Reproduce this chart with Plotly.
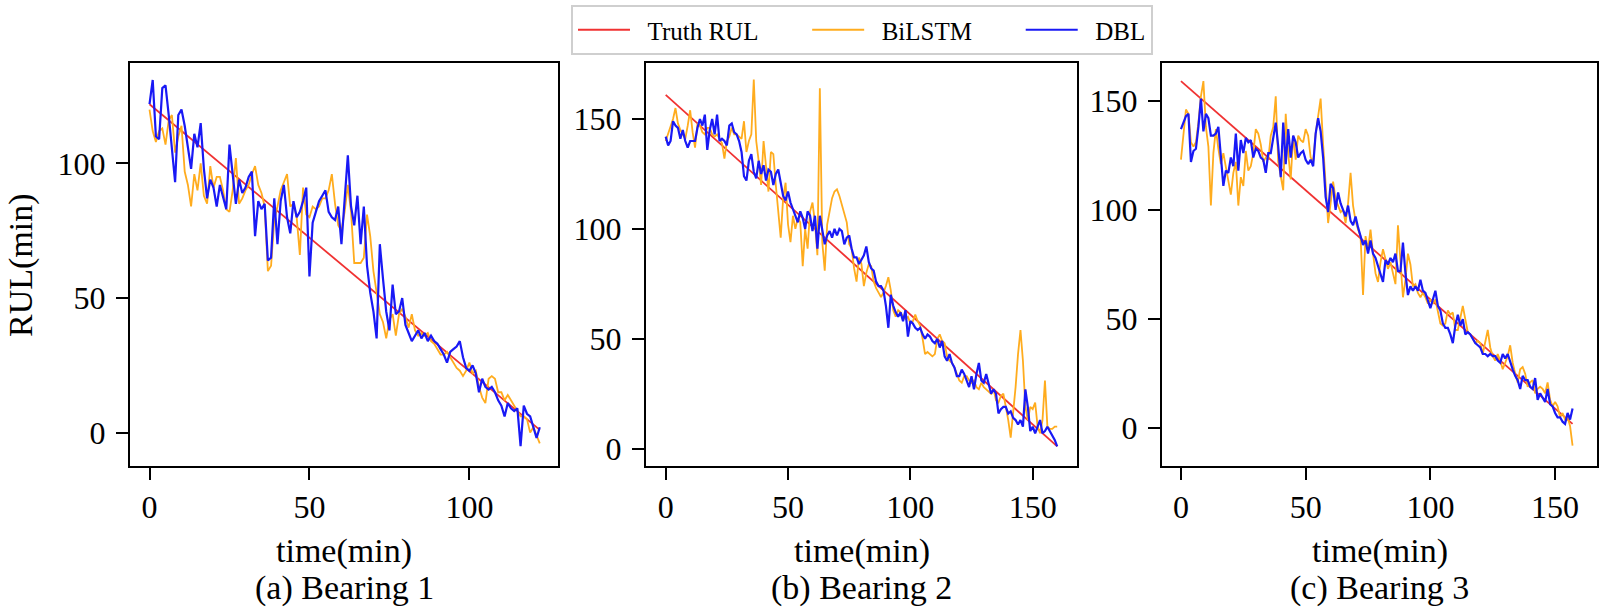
import plotly.graph_objects as go

# ---------------- data ----------------
# Bearing 1
b1_time = list(range(123))
b1_truth_time = [0, 122]
b1_truth = [122, 1]
b1_bilstm = [
    120, 112, 108, 112, 113, 107, 116, 118, 104, 110,
    114, 97, 92, 84, 96, 90, 100, 88, 85, 99,
    91, 95, 95, 90, 83, 82, 90, 102, 85, 87,
    90, 92, 96, 99, 92, 89, 84, 60, 62, 79,
    84, 90, 93, 96, 84, 85, 80, 66, 91, 81,
    80, 84, 83, 84, 87, 87, 90, 96, 85, 77,
    75, 82, 92, 82, 63, 63, 63, 65, 81, 73,
    60, 52, 44, 41, 35, 42, 44, 36, 44, 46,
    43, 39, 44, 38, 36, 37, 36, 37, 34, 33,
    31, 29, 29, 30, 28, 26, 24, 23, 21, 23,
    26, 22, 23, 17, 13, 11, 20, 21, 20, 15,
    15, 12, 14, 12, 10, 8, 6, 6, 5, 0,
    2, -1, -4]
b1_dbl = [
    122, 131, 110, 109, 128, 129, 118, 106, 93, 118,
    120, 114, 106, 98, 111, 106, 115, 98, 87, 94,
    91, 84, 92, 87, 83, 107, 97, 85, 94, 89,
    91, 95, 97, 73, 86, 83, 85, 64, 65, 87,
    70, 86, 92, 80, 74, 86, 80, 82, 86, 91,
    58, 78, 82, 86, 88, 90, 82, 80, 79, 84,
    70, 86, 103, 84, 77, 88, 70, 84, 62, 52,
    45, 35, 70, 57, 45, 38, 55, 44, 45, 50,
    40, 37, 34, 36, 38, 35, 37, 34, 36, 34,
    33, 31, 29, 26, 30, 31, 32, 34, 28, 24,
    23, 25, 22, 15, 20, 17, 16, 17, 15, 12,
    10, 6, 11, 9, 8, 9, -5, 10, 7, 6,
    2, -2, 2]

# Bearing 2
b2_time = list(range(161))
b2_truth_time = [0, 160]
b2_truth = [161, 1]
b2_bilstm = [
    140, 143, 147, 150, 155, 148, 145, 143, 141, 147,
    154, 144, 137, 148, 147, 144, 143, 146, 146, 143,
    142, 143, 141, 139, 132, 140, 142, 146, 143, 143,
    142, 141, 149, 135, 140, 143, 168, 140, 131, 120,
    140, 128, 117, 135, 134, 120, 109, 96, 114, 121,
    102, 94, 106, 100, 105, 103, 83, 100, 91, 108,
    112, 103, 88, 164, 94, 81, 102, 109, 114, 117,
    118, 115, 111, 108, 103, 93, 91, 82, 76, 87,
    84, 74, 80, 84, 83, 76, 73, 71, 69, 71,
    74, 78, 72, 63, 60, 63, 62, 60, 59, 60,
    57, 58, 61, 58, 56, 50, 43, 44, 43, 42,
    43, 50, 52, 49, 48, 42, 40, 39, 37, 34,
    31, 30, 33, 33, 31, 30, 31, 28, 27, 30,
    28, 27, 26, 25, 27, 22, 21, 24, 25, 19,
    13, 5, 16, 28, 43, 54, 40, 19, 13, 19,
    18, 21, 10, 7, 13, 31, 10, 9, 9, 10,
    10]
b2_dbl = [
    142, 138, 140, 149, 147, 146, 141, 145, 140, 137,
    140, 140, 140, 146, 150, 147, 152, 136, 145, 150,
    143, 152, 140, 141, 140, 138, 147, 148, 144, 143,
    140, 135, 124, 122, 131, 134, 126, 123, 131, 125,
    129, 122, 127, 126, 120, 125, 127, 121, 115, 113,
    117, 112, 109, 106, 103, 108, 105, 100, 108, 106,
    99, 106, 91, 106, 99, 93, 97, 99, 96, 100,
    97, 100, 99, 93, 96, 97, 91, 87, 87, 84,
    86, 88, 92, 85, 82, 81, 76, 74, 74, 72,
    65, 55, 70, 65, 62, 60, 62, 58, 63, 51,
    58, 57, 55, 54, 55, 52, 50, 52, 51, 49,
    48, 50, 46, 49, 42, 40, 43, 39, 37, 33,
    33, 36, 34, 31, 28, 33, 27, 34, 39, 31,
    30, 34, 30, 25, 27, 25, 16, 18, 19, 19,
    16, 17, 14, 13, 11, 13, 10, 27, 19, 8,
    10, 7, 10, 13, 7, 8, 10, 8, 6, 4,
    1]

# Bearing 3
b3_time = list(range(158))
b3_truth_time = [0, 157]
b3_truth = [159, 2]
b3_bilstm = [
    123, 135, 146, 144, 131, 129, 131, 140, 152, 159,
    138, 129, 102, 126, 137, 128, 121, 126, 120, 114,
    107, 117, 122, 102, 115, 111, 127, 118, 120, 126,
    137, 135, 130, 122, 124, 123, 134, 138, 152, 122,
    115, 109, 144, 126, 114, 134, 123, 134, 132, 131,
    137, 134, 124, 122, 135, 143, 151, 130, 110, 94,
    103, 113, 105, 102, 99, 100, 94, 103, 117, 102,
    95, 91, 88, 61, 88, 82, 91, 80, 71, 67,
    76, 82, 78, 73, 76, 71, 66, 93, 76, 60,
    68, 80, 75, 65, 66, 62, 60, 62, 60, 57,
    59, 57, 59, 54, 48, 47, 48, 54, 52, 53,
    45, 45, 51, 56, 50, 44, 43, 41, 39, 40,
    39, 34, 39, 45, 37, 33, 31, 34, 31, 27,
    30, 33, 38, 30, 25, 21, 27, 28, 25, 19,
    21, 22, 16, 18, 19, 18, 16, 21, 13, 10,
    12, 10, 5, 7, 4, 5, 1, -8]
b3_dbl = [
    137, 140, 143, 144, 122, 127, 128, 138, 151, 136,
    144, 142, 134, 134, 135, 138, 124, 111, 118, 117,
    124, 120, 135, 118, 132, 126, 133, 131, 132, 124,
    128, 127, 124, 123, 117, 126, 126, 134, 140, 129,
    115, 140, 121, 137, 124, 134, 131, 124, 126, 127,
    123, 121, 123, 120, 135, 142, 136, 124, 106, 99,
    112, 110, 100, 108, 103, 100, 97, 102, 95, 93,
    97, 92, 88, 84, 86, 80, 86, 80, 78, 74,
    70, 67, 77, 75, 78, 76, 80, 72, 72, 85,
    71, 61, 65, 63, 65, 63, 68, 63, 62, 58,
    55, 59, 63, 56, 54, 48, 46, 46, 43, 39,
    47, 52, 47, 50, 43, 44, 43, 41, 39, 38,
    37, 34, 34, 33, 34, 33, 33, 31, 30, 34,
    32, 34, 30, 27, 24, 22, 18, 24, 22, 22,
    19, 18, 23, 13, 16, 14, 12, 18, 11, 10,
    7, 5, 5, 3, 2, 7, 4, 9]

series_names = ["Truth RUL", "BiLSTM", "DBL"]
captions = ["(a) Bearing 1", "(b) Bearing 2", "(c) Bearing 3"]
x_title = "time(min)"
y_title = "RUL(min)"
x_ticks = [[0, 50, 100], [0, 50, 100, 150], [0, 50, 100, 150]]
y_ticks = [[0, 50, 100], [0, 50, 100, 150], [0, 50, 100, 150]]

# ---------------- styling ----------------
W, H = 1600, 613
FONT = "Liberation Serif, Times New Roman, serif"
C_RED = "rgb(240,50,50)"
C_ORANGE = "rgb(255,172,30)"
C_BLUE = "rgb(25,25,245)"
NB = "\u00a0"

panels_px = [(130, 558), (646, 1077), (1162, 1597)]
top_px, bot_px = 63, 466
x_ranges = [[-6.1, 127.7], [-8.05, 168.1], [-7.6, 166.8]]
y_ranges = [[-12.4, 137.3], [-7.9, 175.5], [-17.3, 167.3]]

panels = [
    (b1_time, b1_truth_time, b1_truth, b1_bilstm, b1_dbl),
    (b2_time, b2_truth_time, b2_truth, b2_bilstm, b2_dbl),
    (b3_time, b3_truth_time, b3_truth, b3_bilstm, b3_dbl),
]

# legend labels with spacing padding (visual gap like the original legend)
legend_labels = [NB * 2 + series_names[0] + NB * 7,
                 NB * 2 + series_names[1] + NB * 7,
                 NB * 2 + series_names[2]]

fig = go.Figure()
ydom = [(H - bot_px) / H, (H - top_px) / H]

for i, (t, tt, tr, bl, db) in enumerate(panels):
    xa = "x" if i == 0 else f"x{i+1}"
    ya = "y" if i == 0 else f"y{i+1}"
    show = i == 0
    fig.add_trace(go.Scatter(x=tt, y=tr, mode="lines", name=legend_labels[0],
                             line=dict(color=C_RED, width=1.8), xaxis=xa, yaxis=ya,
                             showlegend=show, legendgroup="t"))
    fig.add_trace(go.Scatter(x=t, y=bl, mode="lines", name=legend_labels[1],
                             line=dict(color=C_ORANGE, width=1.8), xaxis=xa, yaxis=ya,
                             showlegend=show, legendgroup="b"))
    fig.add_trace(go.Scatter(x=t, y=db, mode="lines", name=legend_labels[2],
                             line=dict(color=C_BLUE, width=2.2), xaxis=xa, yaxis=ya,
                             showlegend=show, legendgroup="d"))

    axis_common = dict(showline=True, linecolor="black", linewidth=2, mirror=True,
                       ticks="outside", ticklen=12, tickwidth=2, tickcolor="black",
                       showgrid=False, zeroline=False,
                       tickfont=dict(family=FONT, size=32, color="black"))
    xkey = "xaxis" if i == 0 else f"xaxis{i+1}"
    ykey = "yaxis" if i == 0 else f"yaxis{i+1}"
    x0, x1 = panels_px[i]
    fig.update_layout(**{
        xkey: dict(domain=[x0 / W, x1 / W], range=x_ranges[i], tickvals=x_ticks[i],
                   anchor=ya, **axis_common),
        ykey: dict(domain=ydom, range=y_ranges[i], tickvals=y_ticks[i],
                   anchor=xa, ticklabelstandoff=4, **axis_common),
    })
    cx = (x0 + x1) / 2 / W
    fig.add_annotation(text=x_title, x=cx, y=1 - 551 / H, xref="paper", yref="paper",
                       showarrow=False, xanchor="center", yanchor="middle",
                       font=dict(family=FONT, size=34, color="black"))
    fig.add_annotation(text=captions[i], x=cx, y=1 - 588 / H, xref="paper", yref="paper",
                       showarrow=False, xanchor="center", yanchor="middle",
                       font=dict(family=FONT, size=34, color="black"))

fig.add_annotation(text=y_title, x=21 / W, y=1 - 265 / H, xref="paper", yref="paper",
                   showarrow=False, xanchor="center", yanchor="middle", textangle=-90,
                   font=dict(family=FONT, size=34, color="black"))

fig.update_layout(
    width=W, height=H,
    margin=dict(l=0, r=0, t=0, b=0),
    paper_bgcolor="white", plot_bgcolor="white",
    showlegend=True,
    legend=dict(orientation="h", x=571 / W, xanchor="left", y=1 - 5 / H, yanchor="top",
                font=dict(family=FONT, size=25, color="black"),
                bordercolor="#cfcfcf", borderwidth=2, bgcolor="white",
                itemwidth=52, traceorder="normal"),
)

fig.write_html("out.html")
